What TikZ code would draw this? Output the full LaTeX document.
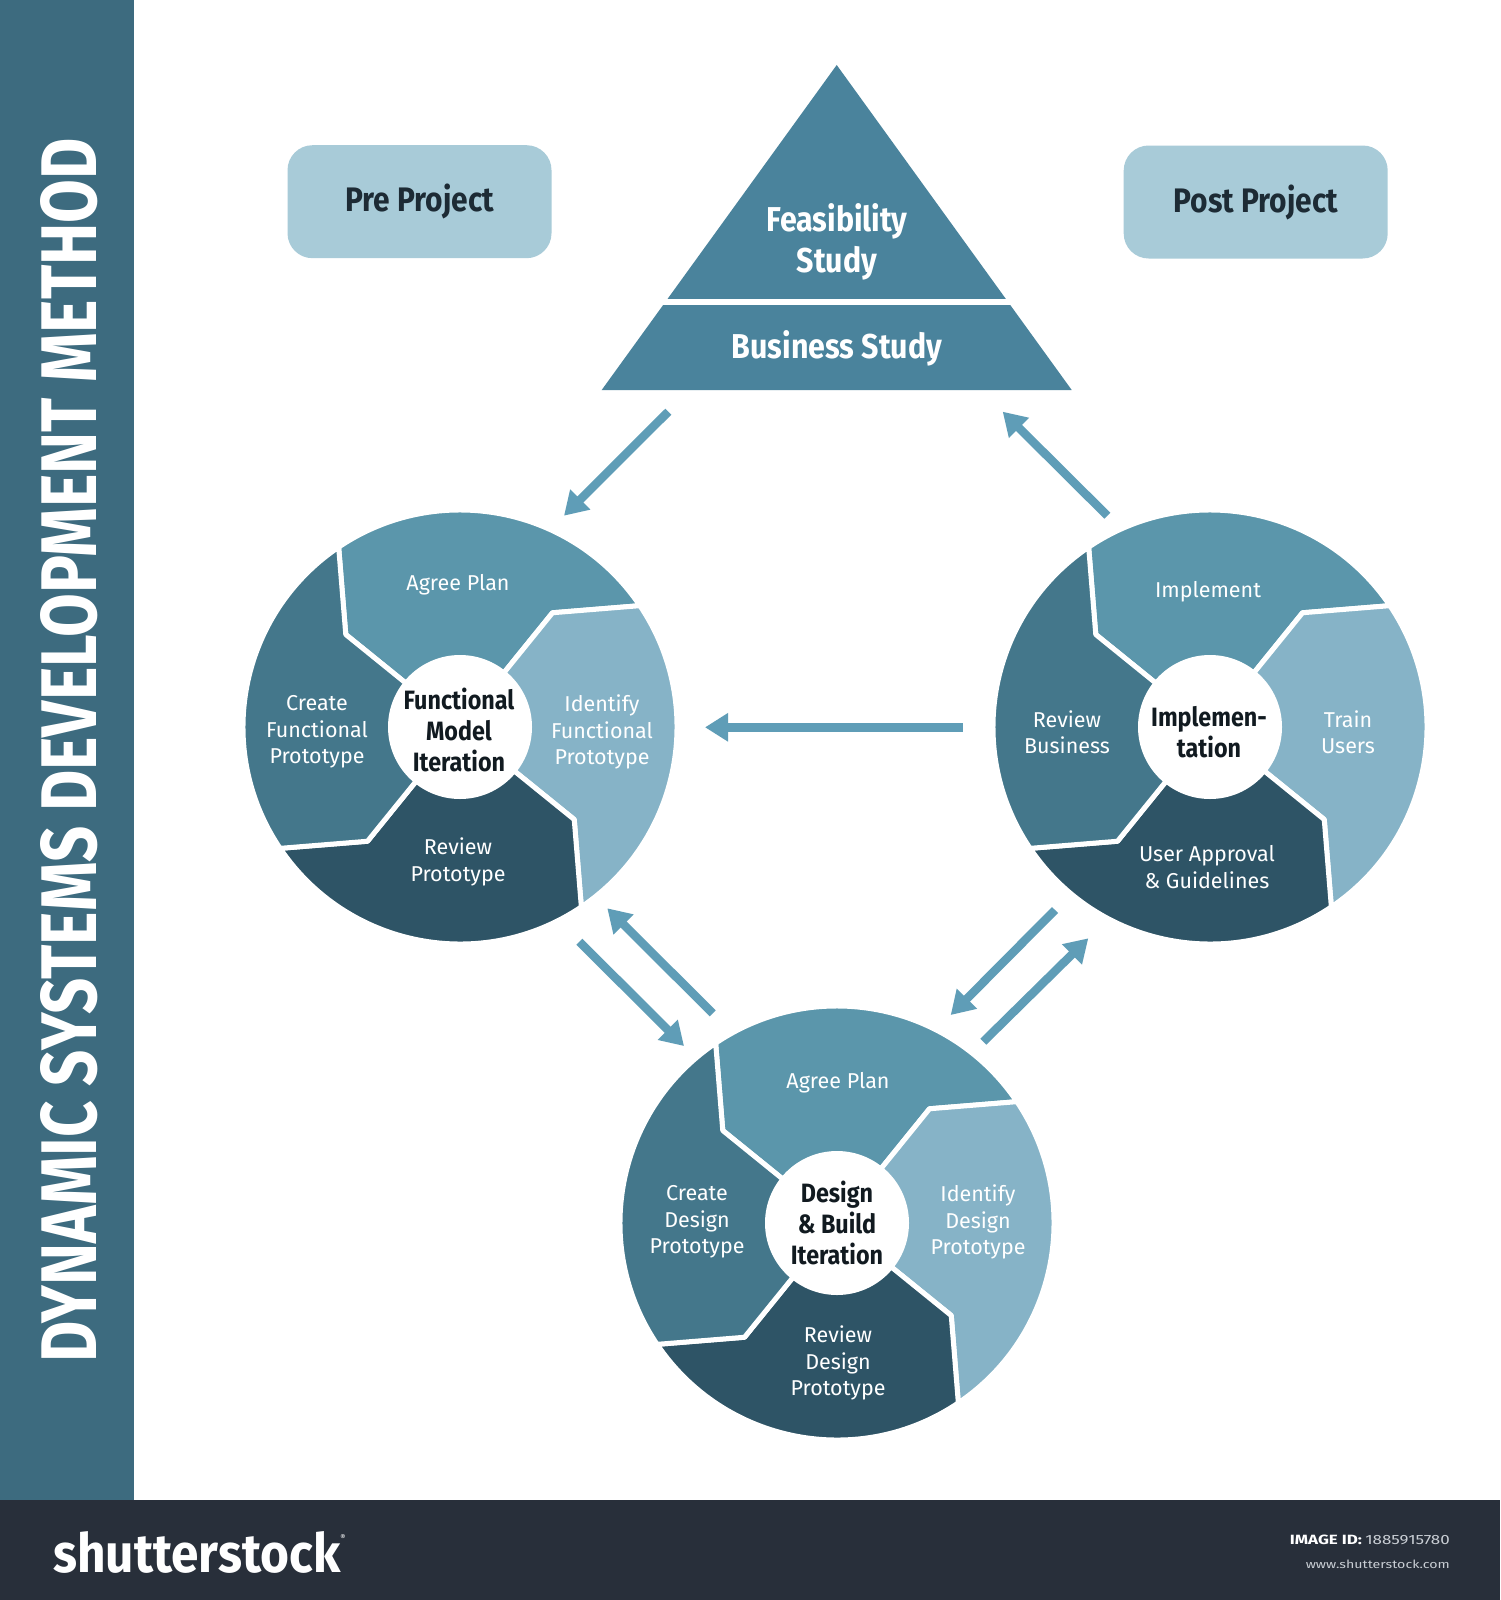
\documentclass[tikz,border=0pt]{standalone}
\usepackage{graphicx}
\usepackage{fontspec}
\setmainfont{Fira Sans}
\newfontfamily\condfont[FakeStretch=0.88]{Fira Sans}
\usetikzlibrary{arrows.meta}
\definecolor{segA}{HTML}{5B96AB}
\definecolor{segB}{HTML}{86B3C7}
\definecolor{segC}{HTML}{2E5466}
\definecolor{segD}{HTML}{44778B}
\definecolor{triC}{HTML}{4A839C}
\definecolor{arrC}{HTML}{5F9DB7}
\definecolor{barC}{HTML}{3D6B7F}
\definecolor{boxC}{HTML}{A8CBD8}
\definecolor{banC}{HTML}{282F3A}
\definecolor{inkC}{HTML}{111A20}
\definecolor{boxT}{HTML}{1D2B35}
\definecolor{idC}{HTML}{C9CED4}
\newcommand\dsSeg[2]{\filldraw[fill=#1,draw=white,line width=5pt,line join=round]
  (0,0) -- ({#2+90}:147pt) -- ({#2+73}:217pt)
  arc[start angle={#2+73},end angle={#2-17},radius=217pt]
  -- (#2:147pt) -- cycle;}
\newcommand\dsWheel{\dsSeg{segA}{51}\dsSeg{segB}{-39}\dsSeg{segC}{-129}\dsSeg{segD}{141}%
  \fill[white] (0,0) circle[radius=72pt];}
\begin{document}
\begin{tikzpicture}[x=1pt,y=1pt,
  lbl/.style={text=white,align=center,font=\fontsize{21.5}{26.5}\selectfont,inner sep=0pt},
  hub/.style={text=inkC,align=center,font=\condfont\bfseries\fontsize{26.5}{31}\selectfont,inner sep=0pt},
  arr/.style={draw=arrC,line width=8.5pt,-{Triangle[length=23pt,width=27pt]}},
  phase/.style={fill=boxC,rounded corners=25pt,minimum width=264pt,minimum height=113pt,inner sep=0pt,text=boxT,font=\condfont\bfseries\fontsize{34}{38}\selectfont},
  trilbl/.style={text=white,align=center,font=\condfont\bfseries\fontsize{34.5}{40.7}\selectfont,inner sep=0pt}]
\useasboundingbox (0,0) rectangle (1500,-1600);
\fill[white] (0,0) rectangle (1500,-1600);
% side bar and banner
\fill[barC] (0,0) rectangle (134,-1500);
\fill[banC] (0,-1500) rectangle (1500,-1600);
\node[rotate=90,inner sep=0pt,text=white] (title) at (69,-750)
  {\resizebox{1224pt}{56pt}{\condfont\bfseries DYNAMIC SYSTEMS DEVELOPMENT METHOD}};
% triangle
\fill[triC] (836.7,-65) -- (1071.7,-390) -- (601.7,-390) -- cycle;
\fill[white] (590,-298.5) rectangle (1085,-305);
\node[trilbl] (feas) at (837,-242) {Feasibility\\Study};
\node[trilbl] (bus) at (837,-348) {Business Study};
% phase boxes
\node[phase] (pre) at (419.5,-201.7) {Pre Project};
\node[phase] (post) at (1255.7,-202) {Post Project};
% functional model wheel
\begin{scope}[shift={(460,-727)}]
  \dsWheel
  \node[lbl] (fA) at (-2,142) {Agree Plan};
  \node[lbl] (fC) at (-143,-5) {Create\\Functional\\Prototype};
  \node[lbl] (fI) at (142,-5) {Identify\\Functional\\Prototype};
  \node[lbl] (fR) at (-2,-135) {Review\\Prototype};
  \node[hub] (fHub) at (-1,-3) {Functional\\Model\\Iteration};
\end{scope}
% implementation wheel
\begin{scope}[shift={(1210,-727)}]
  \dsWheel
  \node[lbl] (iA) at (-2,135) {Implement};
  \node[lbl] (iC) at (-143,-5) {Review\\Business};
  \node[lbl] (iI) at (138,-5) {Train\\Users};
  \node[lbl] (iR) at (-3,-140) {User Approval\\\& Guidelines};
  \node[hub] (iHub) at (-1,-5) {Implemen-\\tation};
\end{scope}
% design and build wheel
\begin{scope}[shift={(837,-1223)}]
  \dsWheel
  \node[lbl] (dA) at (1,140) {Agree Plan};
  \node[lbl] (dC) at (-140,1) {Create\\Design\\Prototype};
  \node[lbl] (dI) at (141,1) {Identify\\Design\\Prototype};
  \node[lbl] (dR) at (1,-140) {Review\\Design\\Prototype};
  \node[hub] (dHub) at (0,0) {Design\\\& Build\\Iteration};
\end{scope}
% arrow end points
\coordinate (a1s) at (668.3,-411.7); \coordinate (a1e) at (564,-515.7);
\coordinate (a2s) at (1107.3,-515.7); \coordinate (a2e) at (1002.7,-411.7);
\coordinate (a3s) at (962.7,-727.3); \coordinate (a3e) at (705,-727.3);
\coordinate (a4s) at (579.3,-941.7); \coordinate (a4e) at (684,-1046);
\coordinate (a5s) at (712.7,-1013.3); \coordinate (a5e) at (607.3,-908.3);
\coordinate (a6s) at (1055,-910); \coordinate (a6e) at (950.7,-1015);
\coordinate (a7s) at (983.3,-1041.7); \coordinate (a7e) at (1088.3,-938.3);
\draw[arr] (a1s) -- (a1e);
\draw[arr] (a2s) -- (a2e);
\draw[arr] (a3s) -- (a3e);
\draw[arr] (a4s) -- (a4e);
\draw[arr] (a5s) -- (a5e);
\draw[arr] (a6s) -- (a6e);
\draw[arr] (a7s) -- (a7e);
% banner texts
\node[anchor=base west,text=white,inner sep=0pt] (logo) at (53,-1572)
  {\resizebox{287pt}{41pt}{\bfseries shutterstock}\raisebox{32pt}{\fontsize{8}{8}\selectfont ®}};
\node[anchor=base east,inner sep=0pt] (imgid) at (1450,-1544)
  {\resizebox{160pt}{9.5pt}{\condfont\textcolor{white}{\bfseries IMAGE ID:}\,\textcolor{idC}{1885915780}}};
\node[anchor=base east,inner sep=0pt,text=idC] (www) at (1450,-1568)
  {\resizebox{144pt}{8.5pt}{\condfont www.shutterstock.com}};
\end{tikzpicture}
\end{document}
